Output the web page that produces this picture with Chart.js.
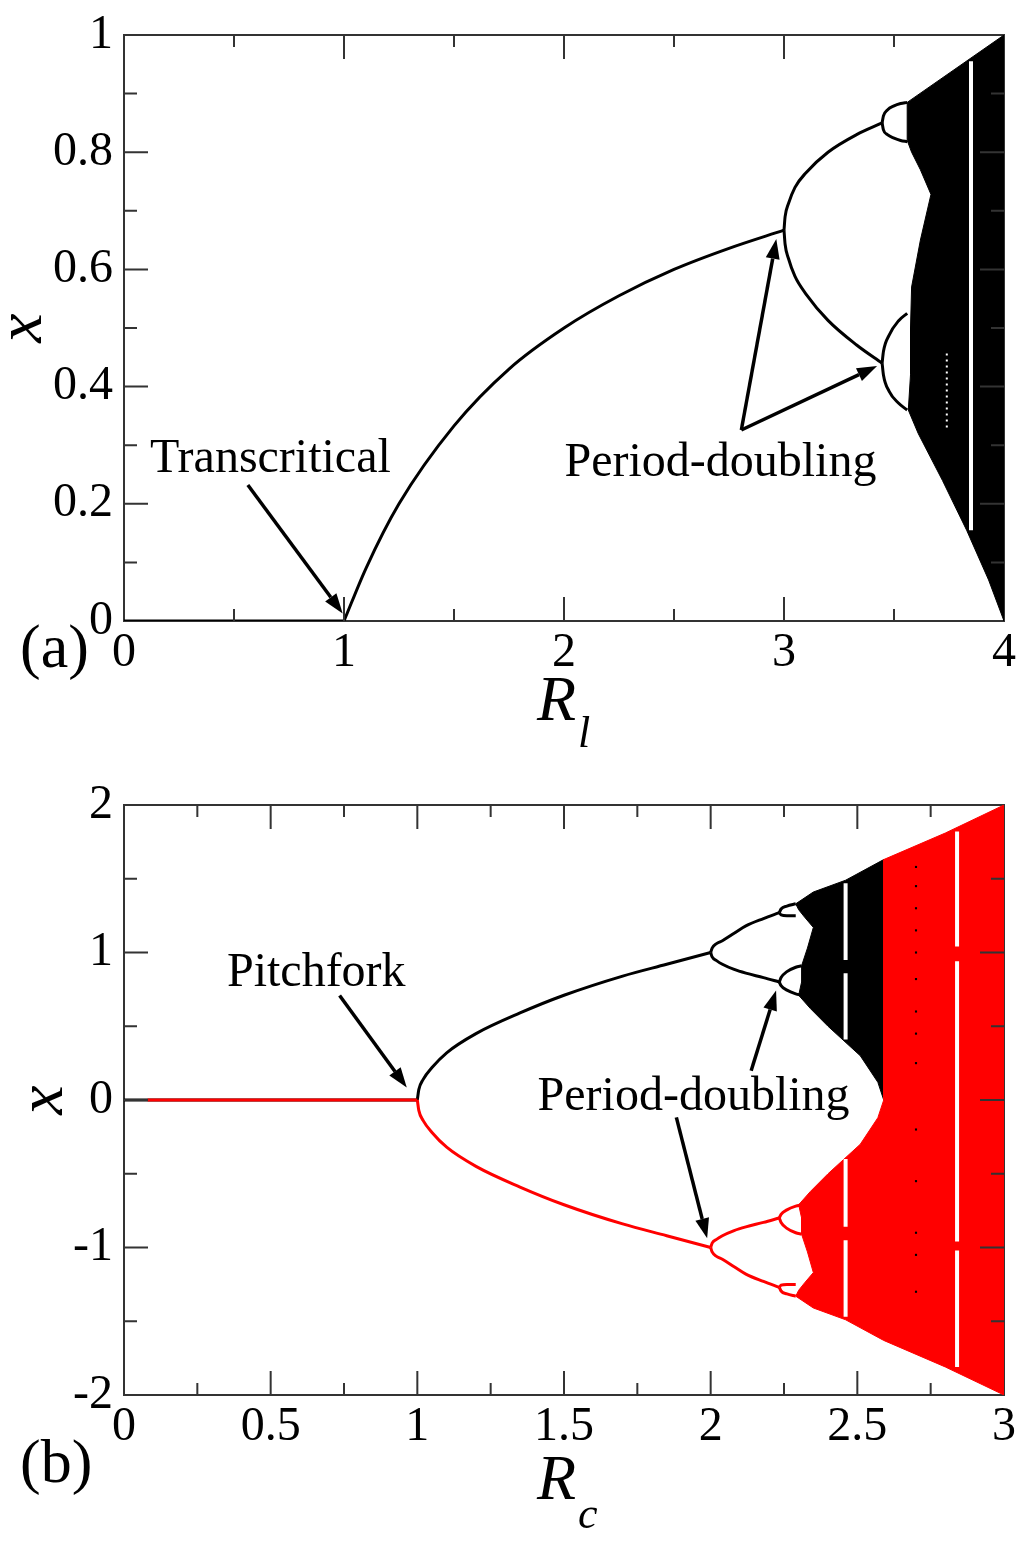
<!DOCTYPE html>
<html lang="en">
<head>
  <meta charset="UTF-8" />
  <title>Bifurcation diagrams</title>
  <script src="https://cdn.jsdelivr.net/npm/chart.js@4.4.1/dist/chart.umd.min.js"></script>
  <style>
    * { margin: 0; padding: 0; box-sizing: border-box; }
    body { background: #fff; width: 1024px; height: 1543px; overflow: hidden; position: relative; }
    canvas { position: absolute; left: 0; }
  </style>
</head>
<body>
  <canvas id="chart-a" width="1024" height="770" style="top:0"></canvas>
  <canvas id="chart-b" width="1024" height="773" style="top:770px"></canvas>

  <script>
// ---------- panel (a): x against R_l ----------
const aZero = [[0, 0], [1, 0]];
const aFixed = [[1, 0], [1.1, 0.09], [1.25, 0.2], [1.5, 0.333], [1.75, 0.43], [2, 0.5],
                [2.25, 0.555], [2.5, 0.6], [2.75, 0.636], [3, 0.667]];
const aP2Upper = [[3, 0.667], [3.005, 0.69], [3.02, 0.712], [3.05, 0.74], [3.1, 0.765], [3.2, 0.8], [3.33, 0.83], [3.446, 0.85]];
const aP2Lower = [[3, 0.667], [3.005, 0.643], [3.02, 0.619], [3.05, 0.588], [3.1, 0.558], [3.2, 0.513], [3.33, 0.471], [3.446, 0.44]];
const aP4TopHi = [[3.446, 0.85], [3.452, 0.862], [3.47, 0.872], [3.5, 0.879], [3.53, 0.883], [3.56, 0.885]];
const aP4TopLo = [[3.446, 0.85], [3.452, 0.838], [3.47, 0.83], [3.5, 0.824], [3.53, 0.82], [3.56, 0.818]];
const aP4BotHi = [[3.446, 0.44], [3.452, 0.46], [3.478, 0.488], [3.52, 0.512], [3.56, 0.525]];
const aP4BotLo = [[3.446, 0.44], [3.452, 0.42], [3.478, 0.392], [3.52, 0.372], [3.56, 0.36]];
const aChaos = [[3.56, 0.885], [4, 1], [4, 0], [3.93, 0.07], [3.83, 0.155], [3.72, 0.24], [3.61, 0.32],
                [3.565, 0.36], [3.575, 0.42], [3.575, 0.5], [3.58, 0.57], [3.62, 0.65], [3.668, 0.728],
                [3.62, 0.77], [3.58, 0.8], [3.56, 0.82], [3.56, 0.885]];
const aWindowR = 3.85;
const aWindowSpans = [[0.155, 0.955]];
const aDottedR = 3.74;
const aDottedSpans = [[0.33, 0.46]];

// ---------- panel (b): x against R_c ----------
const bZeroBlack = [[0, 0], [1, 0]];
const bZeroRed = [[0.08, 0], [1, 0]];
const bFixedUp = [[1, 0], [1.005, 0.07], [1.02, 0.14], [1.05, 0.22], [1.1, 0.32], [1.2, 0.45],
                  [1.35, 0.59], [1.5, 0.71], [1.7, 0.84], [1.85, 0.92], [2, 1]];
const bFixedDown = [[1, 0], [1.005, -0.07], [1.02, -0.14], [1.05, -0.22], [1.1, -0.32], [1.2, -0.45],
                    [1.35, -0.59], [1.5, -0.71], [1.7, -0.84], [1.85, -0.92], [2, -1]];
const bP2UpHi = [[2, 1], [2.005, 1.03], [2.02, 1.06], [2.04, 1.08], [2.08, 1.13], [2.12, 1.18], [2.18, 1.23], [2.234, 1.27]];
const bP2UpLo = [[2, 1], [2.005, 0.97], [2.02, 0.945], [2.04, 0.92], [2.08, 0.885], [2.12, 0.86], [2.18, 0.83], [2.234, 0.8]];
const bP2DnHi = [[2, -1], [2.005, -0.97], [2.02, -0.945], [2.04, -0.92], [2.08, -0.885], [2.12, -0.86], [2.18, -0.83], [2.234, -0.8]];
const bP2DnLo = [[2, -1], [2.005, -1.03], [2.02, -1.06], [2.04, -1.08], [2.08, -1.13], [2.12, -1.18], [2.18, -1.23], [2.234, -1.27]];
const bP4UpA = [[2.234, 1.27], [2.24, 1.295], [2.26, 1.315], [2.29, 1.33]];
const bP4UpB = [[2.234, 1.27], [2.24, 1.255], [2.26, 1.25], [2.29, 1.25]];
const bP4UpC = [[2.234, 0.8], [2.24, 0.83], [2.26, 0.87], [2.29, 0.9], [2.31, 0.91]];
const bP4UpD = [[2.234, 0.8], [2.24, 0.775], [2.26, 0.745], [2.29, 0.72], [2.31, 0.71]];
const bP4DnA = [[2.234, -1.27], [2.24, -1.295], [2.26, -1.315], [2.29, -1.33]];
const bP4DnB = [[2.234, -1.27], [2.24, -1.255], [2.26, -1.25], [2.29, -1.25]];
const bP4DnC = [[2.234, -0.8], [2.24, -0.83], [2.26, -0.87], [2.29, -0.9], [2.31, -0.91]];
const bP4DnD = [[2.234, -0.8], [2.24, -0.775], [2.26, -0.745], [2.29, -0.72], [2.31, -0.71]];
const bChaosBlack = [[2.29, 1.33], [2.35, 1.41], [2.46, 1.49], [2.59, 1.63], [2.59, 0], [2.57, 0.12],
                     [2.51, 0.3], [2.4, 0.5], [2.34, 0.62], [2.3, 0.71], [2.31, 0.8], [2.31, 0.91],
                     [2.33, 1.03], [2.35, 1.17], [2.32, 1.24], [2.3, 1.29], [2.29, 1.33]];
const bChaosRed = [[2.29, -1.33], [2.35, -1.41], [2.46, -1.49], [2.59, -1.63], [2.8, -1.81], [3, -2],
                   [3, 2], [2.8, 1.81], [2.59, 1.63], [2.59, 0], [2.57, -0.12], [2.51, -0.3], [2.4, -0.5],
                   [2.34, -0.62], [2.3, -0.71], [2.31, -0.8], [2.31, -0.91], [2.33, -1.03], [2.35, -1.17],
                   [2.32, -1.24], [2.3, -1.29], [2.29, -1.33]];
const bWindow1R = 2.46;
const bWindow1Spans = [[0.41, 0.86], [0.95, 1.47], [-1.47, -0.95], [-0.86, -0.4]];
const bWindow2R = 2.84;
const bWindow2Spans = [[1.04, 1.82], [-0.96, 0.94], [-1.81, -1.02]];
const bSpeckR = 2.7;
const bSpeckX = [1.58, 1.45, 1.3, 1.15, 1.0, 0.82, 0.6, 0.45, 0.25, -0.2, -0.55, -0.9, -1.05, -1.3];

const FONT = "'Liberation Serif', 'Times New Roman', serif";

// helpers to turn the arrays into chart points
function pairs(arr) { return arr.map(p => ({ x: p[0], y: p[1] })); }
function spans(r, list) {
  const out = [];
  list.forEach(s => { out.push({ x: r, y: s[0] }, { x: r, y: s[1] }, { x: r, y: null }); });
  return out;
}
function tickText(v) { return String(Number(v.toFixed(2))); }

function curve(arr, color, order) {
  return {
    data: pairs(arr), showLine: true, borderColor: color, borderWidth: 3,
    pointRadius: 0, fill: false, cubicInterpolationMode: 'monotone', order
  };
}
function region(arr, color, order) {
  return {
    data: pairs(arr), showLine: true, borderColor: color, backgroundColor: color,
    borderWidth: 1, pointRadius: 0, fill: 'shape', tension: 0, order
  };
}
function gap(data, width, order, dash) {
  return {
    data, showLine: true, borderColor: '#fff', borderWidth: width, pointRadius: 0,
    fill: false, tension: 0, spanGaps: false, borderDash: dash || [], borderCapStyle: 'butt', order
  };
}

// frame, inward ticks, titles, labels and arrows
const decorPlugin = {
  id: 'decor',
  beforeDatasetsDraw(chart) {
    const { left, right, top, bottom } = chart.chartArea;
    const ctx = chart.ctx;
    ctx.save();
    ctx.strokeStyle = '#333';
    ctx.lineWidth = 2;
    ctx.strokeRect(left, top, right - left, bottom - top);
    ctx.restore();
  },
  afterDatasetsDraw(chart, args, opts) {
    const ctx = chart.ctx;
    const { left, right, top, bottom } = chart.chartArea;
    const sx = chart.scales.x, sy = chart.scales.y;
    ctx.save();

    // ticks
    ctx.strokeStyle = '#333';
    ctx.lineWidth = 2;
    ctx.beginPath();
    const xt = (vals, len) => vals.forEach(v => {
      const p = sx.getPixelForValue(v);
      ctx.moveTo(p, bottom); ctx.lineTo(p, bottom - len);
      ctx.moveTo(p, top); ctx.lineTo(p, top + len);
    });
    const yt = (vals, len) => vals.forEach(v => {
      const p = sy.getPixelForValue(v);
      ctx.moveTo(left, p); ctx.lineTo(left + len, p);
      ctx.moveTo(right, p); ctx.lineTo(right - len, p);
    });
    xt(opts.xMajor, 24); xt(opts.xMinor, 12);
    yt(opts.yMajor, 24); yt(opts.yMinor, 13);
    ctx.stroke();

    // annotations
    ctx.fillStyle = '#000';
    ctx.font = '48px ' + FONT;
    ctx.textAlign = 'left';
    ctx.textBaseline = 'alphabetic';
    opts.notes.forEach(n => ctx.fillText(n.text, sx.getPixelForValue(n.r), sy.getPixelForValue(n.x)));

    // arrows
    ctx.strokeStyle = '#000';
    ctx.lineWidth = 3.5;
    opts.arrows.forEach(a => {
      const x0 = sx.getPixelForValue(a[0]), y0 = sy.getPixelForValue(a[1]);
      const x1 = sx.getPixelForValue(a[2]), y1 = sy.getPixelForValue(a[3]);
      const ang = Math.atan2(y1 - y0, x1 - x0);
      const hl = 20, hw = 7;
      const bx = x1 - hl * Math.cos(ang), by = y1 - hl * Math.sin(ang);
      ctx.beginPath();
      ctx.moveTo(x0, y0); ctx.lineTo(bx, by);
      ctx.stroke();
      ctx.beginPath();
      ctx.moveTo(x1, y1);
      ctx.lineTo(bx + hw * Math.sin(ang), by - hw * Math.cos(ang));
      ctx.lineTo(bx - hw * Math.sin(ang), by + hw * Math.cos(ang));
      ctx.closePath();
      ctx.fill();
    });

    // x axis title with subscript
    const t = opts.xTitle;
    ctx.font = 'italic 64px ' + FONT;
    ctx.fillText('R', t.left, bottom + t.base);
    const w = ctx.measureText('R').width;
    ctx.font = 'italic 44px ' + FONT;
    ctx.fillText(t.sub, t.left + w + 2, bottom + t.subBase);

    // y axis title, rotated
    ctx.save();
    ctx.translate(left - opts.yTitleOff, (top + bottom) / 2);
    ctx.rotate(-Math.PI / 2);
    ctx.font = 'italic 66px ' + FONT;
    ctx.textAlign = 'center';
    ctx.fillText('x', 0, 15);
    ctx.restore();

    // panel tag
    ctx.font = '62px ' + FONT;
    ctx.fillText(opts.tag, 20, bottom + opts.tagBase);
    ctx.restore();
  }
};

function makeChart(id, datasets, xr, yr, xHeight, padTop, decor) {
  return new Chart(document.getElementById(id), {
    type: 'scatter',
    data: { datasets },
    options: {
      responsive: false,
      animation: false,
      layout: { padding: { top: padTop, right: 19, left: 0, bottom: 0 } },
      plugins: { legend: { display: false }, tooltip: { enabled: false }, decor },
      scales: {
        x: {
          type: 'linear', min: xr[0], max: xr[1],
          grid: { display: false, drawTicks: false }, border: { display: false },
          ticks: { stepSize: xr[2], padding: 8, color: '#000', callback: tickText,
                   font: { family: FONT, size: 48, lineHeight: 1 }, maxRotation: 0 },
          afterFit(scale) { scale.height = xHeight; }
        },
        y: {
          type: 'linear', min: yr[0], max: yr[1],
          grid: { display: false, drawTicks: false }, border: { display: false },
          ticks: { stepSize: yr[2], padding: 11, color: '#000', callback: tickText,
                   font: { family: FONT, size: 48, lineHeight: 1 } },
          afterFit(scale) { scale.width = 124; }
        }
      }
    },
    plugins: [decorPlugin]
  });
}

document.addEventListener('DOMContentLoaded', () => {
  const black = '#000', red = '#ff0000';

  makeChart('chart-a', [
    gap(spans(aWindowR, aWindowSpans), 4, 0),
    gap(spans(aDottedR, aDottedSpans), 2, 0, [2, 4]),
    region(aChaos, black, 1),
    curve(aZero, black, 2),
    curve(aFixed, black, 2),
    curve(aP2Upper, black, 2),
    curve(aP2Lower, black, 2),
    curve(aP4TopHi, black, 2),
    curve(aP4TopLo, black, 2),
    curve(aP4BotHi, black, 2),
    curve(aP4BotLo, black, 2)
  ], [0, 4, 1], [0, 1, 0.2], 149, 26, {
    xMajor: [1, 2, 3], xMinor: [0.5, 1.5, 2.5, 3.5],
    yMajor: [0.2, 0.4, 0.6, 0.8], yMinor: [0.1, 0.3, 0.5, 0.7, 0.9],
    notes: [{ text: 'Transcritical', r: 0.118, x: 0.254 }, { text: 'Period-doubling', r: 2.002, x: 0.247 }],
    arrows: [[0.563, 0.232, 0.994, 0.013], [2.806, 0.326, 2.965, 0.652], [2.806, 0.326, 3.423, 0.435]],
    xTitle: { left: 537, base: 99, sub: 'l', subBase: 126 },
    yTitleOff: 98,
    tag: '(a)', tagBase: 46
  });

  makeChart('chart-b', [
    { data: bSpeckX.map(v => ({ x: bSpeckR, y: v })), showLine: false, pointRadius: 1.5,
      pointStyle: 'rect', backgroundColor: black, borderWidth: 0, order: 0 },
    gap(spans(bWindow1R, bWindow1Spans), 4, 1),
    gap(spans(bWindow2R, bWindow2Spans), 4, 1),
    region(bChaosRed, red, 2),
    curve(bZeroRed, red, 2),
    curve(bFixedDown, red, 2),
    curve(bP2DnHi, red, 2),
    curve(bP2DnLo, red, 2),
    curve(bP4DnA, red, 2),
    curve(bP4DnB, red, 2),
    curve(bP4DnC, red, 2),
    curve(bP4DnD, red, 2),
    region(bChaosBlack, black, 3),
    curve(bZeroBlack, black, 3),
    curve(bFixedUp, black, 3),
    curve(bP2UpHi, black, 3),
    curve(bP2UpLo, black, 3),
    curve(bP4UpA, black, 3),
    curve(bP4UpB, black, 3),
    curve(bP4UpC, black, 3),
    curve(bP4UpD, black, 3)
  ], [0, 3, 0.5], [-2, 2, 1], 148, 30, {
    xMajor: [0.5, 1, 1.5, 2, 2.5], xMinor: [0.25, 0.75, 1.25, 1.75, 2.25, 2.75],
    yMajor: [-1, 0, 1], yMinor: [-1.5, -0.5, 0.5, 1.5],
    notes: [{ text: 'Pitchfork', r: 0.351, x: 0.77 }, { text: 'Period-doubling', r: 1.41, x: -0.071 }],
    arrows: [[0.735, 0.709, 0.964, 0.084], [2.138, 0.198, 2.223, 0.743], [1.883, -0.118, 1.988, -0.938]],
    xTitle: { left: 537, base: 104, sub: 'c', subBase: 133 },
    yTitleOff: 77,
    tag: '(b)', tagBase: 87
  });
});
  </script>
</body>
</html>
